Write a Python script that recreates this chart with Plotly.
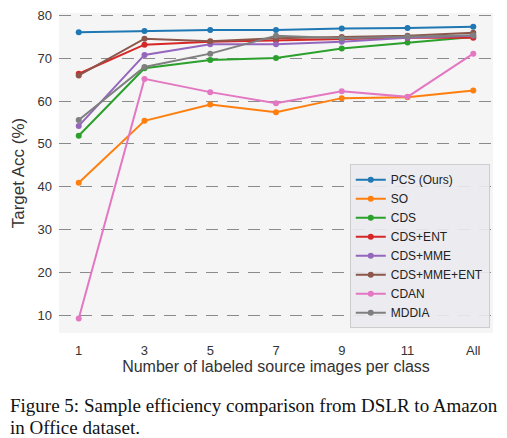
import plotly.graph_objects as go

# data (Office, DSLR -> Amazon)
x_labels = ["1", "3", "5", "7", "9", "11", "All"]

pcs = [76.1, 76.4, 76.6, 76.6, 77.0, 77.1, 77.4]
so = [40.9, 55.4, 59.2, 57.4, 60.7, 60.9, 62.5]
cds = [51.9, 67.7, 69.6, 70.1, 72.3, 73.7, 75.0]
cds_ent = [66.4, 73.2, 73.9, 74.2, 74.4, 74.8, 74.8]
cds_mme = [54.2, 70.8, 73.3, 73.3, 73.9, 74.8, 75.3]
cds_mme_ent = [66.0, 74.6, 74.0, 74.7, 75.0, 75.3, 76.0]
cdan = [9.2, 65.2, 62.1, 59.5, 62.3, 61.0, 71.1]
mddia = [55.6, 68.0, 71.1, 75.3, 74.7, 75.1, 75.4]

series = [
    ("PCS (Ours)", pcs, "#1f77b4"),
    ("SO", so, "#ff7f0e"),
    ("CDS", cds, "#2ca02c"),
    ("CDS+ENT", cds_ent, "#d62728"),
    ("CDS+MME", cds_mme, "#9467bd"),
    ("CDS+MME+ENT", cds_mme_ent, "#8c564b"),
    ("CDAN", cdan, "#e377c2"),
    ("MDDIA", mddia, "#7f7f7f"),
]

fig = go.Figure()
for name, vals, col in series:
    fig.add_trace(go.Scatter(
        x=list(range(len(x_labels))), y=vals, name=name, mode="lines+markers",
        line=dict(color=col, width=2), marker=dict(color=col, size=6),
    ))

# page body has an 8px margin, so the figure is 8px smaller and margins shifted
fig.update_layout(
    width=499, height=430,
    margin=dict(l=51, r=14, t=5, b=105, autoexpand=False),
    paper_bgcolor="white", plot_bgcolor="#f5f5f5",
    font=dict(family="Liberation Sans, Arial, sans-serif", size=13, color="#333"),
    showlegend=True,
    legend=dict(
        x=0.67, y=0.015, xanchor="left", yanchor="bottom",
        bgcolor="rgba(234,234,240,0.9)", bordercolor="#cccccc", borderwidth=1,
        font=dict(size=12, color="#222"), itemwidth=30, tracegroupgap=0,
    ),
)
fig.update_xaxes(
    range=[-0.3, 6.3], tickmode="array", tickvals=list(range(len(x_labels))),
    ticktext=x_labels, showgrid=False, zeroline=False, showline=False,
    ticks="", ticklen=0, ticklabelstandoff=8, automargin=False,
    title=dict(text="Number of labeled source images per class", font=dict(size=16), standoff=2),
)
fig.update_yaxes(
    range=[5.8, 80.6], tickvals=[10, 20, 30, 40, 50, 60, 70, 80],
    showgrid=True, gridcolor="#8a8a8a", gridwidth=1, griddash="12px,9px",
    zeroline=False, showline=False, ticks="", ticklen=0, ticklabelstandoff=6,
    ticklabeloverflow="allow", automargin=False,
    title=dict(text="Target Acc (%)", font=dict(size=17), standoff=8),
)

caption_font = dict(family="Liberation Serif, Times New Roman, serif", size=19, color="#111")
fig.add_annotation(
    xref="paper", yref="paper", x=-0.1175, y=-0.226, xanchor="left", yanchor="middle",
    showarrow=False, font=caption_font,
    text="Figure 5: Sample efficiency comparison from DSLR to Amazon",
)
fig.add_annotation(
    xref="paper", yref="paper", x=-0.1175, y=-0.294, xanchor="left", yanchor="middle",
    showarrow=False, font=caption_font,
    text="in Office dataset.",
)

fig.write_html("out.html")
